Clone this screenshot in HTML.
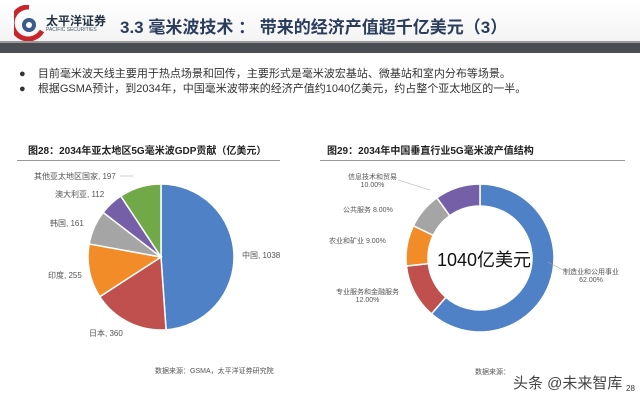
<!DOCTYPE html>
<html><head><meta charset="utf-8"><style>
body{margin:0;width:640px;height:400px;background:#fff;overflow:hidden;font-family:"Liberation Sans","Noto Sans CJK SC",sans-serif;position:relative}
.a{position:absolute;white-space:nowrap}
</style></head><body>
<div class="a" style="left:0;top:0;width:640px;height:44px;background:linear-gradient(#fff,#f3f3f3)"></div>
<div class="a" style="left:0;top:43px;width:640px;height:10px;background:#4a4e52"></div>
<div class="a" style="left:0;top:41px;width:640px;height:2px;background:#9a9a9a"></div>
<svg class="a" style="left:14px;top:5px" width="30" height="36"><path d="M15 2 A16 16 0 1 0 28 26" fill="none" stroke="#c8242c" stroke-width="5"/><circle cx="15" cy="20" r="7" fill="#3a5a8a"/><circle cx="15" cy="20" r="3" fill="#fff"/></svg>
<div class="a" style="left:46px;top:12px;font-size:12px;font-weight:bold;color:#234">太平洋证券</div>
<div class="a" style="left:46px;top:27px;font-size:5px;color:#456">PACIFIC SECURITIES</div>
<div class="a" style="left:120px;top:13px;font-size:17px;font-weight:bold;color:#2a3d5c">3.3 毫米波技术 ：&nbsp;带来的经济产值超千亿美元（3）</div>
<div class="a" style="left:19px;top:65px;font-size:11px;color:#333">●&nbsp;&nbsp;&nbsp;&nbsp;目前毫米波天线主要用于热点场景和回传，主要形式是毫米波宏基站、微基站和室内分布等场景。</div>
<div class="a" style="left:19px;top:80px;font-size:11px;color:#333">●&nbsp;&nbsp;&nbsp;&nbsp;根据GSMA预计，到2034年，中国毫米波带来的经济产值约1040亿美元，约占整个亚太地区的一半。</div>
<div class="a" style="left:28px;top:142px;font-size:10px;font-weight:bold;color:#222">图28：2034年亚太地区5G毫米波GDP贡献（亿美元）</div>
<div class="a" style="left:17px;top:160px;width:263px;height:1px;background:#999"></div>
<div class="a" style="left:327px;top:142px;font-size:10px;font-weight:bold;color:#222">图29：2034年中国垂直行业5G毫米波产值结构</div>
<div class="a" style="left:320px;top:160px;width:305px;height:1px;background:#999"></div>
<svg id="s" class="a" style="left:0;top:0" width="640" height="400"></svg>
<div class="a" style="left:34px;top:171px;font-size:8px;color:#555">其他亚太地区国家, 197</div>
<div class="a" style="left:55px;top:189px;font-size:8px;color:#555">澳大利亚, 112</div>
<div class="a" style="left:50px;top:218px;font-size:8px;color:#555">韩国, 161</div>
<div class="a" style="left:48px;top:270px;font-size:8px;color:#555">印度, 255</div>
<div class="a" style="left:89px;top:328px;font-size:8px;color:#555">日本, 360</div>
<div class="a" style="left:242px;top:250px;font-size:8px;color:#555">中国, 1038</div>
<div class="a" style="left:155px;top:366px;font-size:7px;color:#555">数据来源：GSMA，太平洋证券研究院</div>
<div class="a" style="left:348px;top:172px;font-size:7px;color:#555;text-align:center">信息技术和贸易<br>10.00%</div>
<div class="a" style="left:343px;top:205px;font-size:7px;color:#555">公共服务 8.00%</div>
<div class="a" style="left:329px;top:236px;font-size:7px;color:#555">农业和矿业 9.00%</div>
<div class="a" style="left:336px;top:287px;font-size:7px;color:#555;text-align:center">专业服务和金融服务<br>12.00%</div>
<div class="a" style="left:563px;top:267px;font-size:7px;color:#555;text-align:center">制造业和公用事业<br>62.00%</div>
<div class="a" style="left:437px;top:246px;font-size:18px;color:#111">1040亿美元</div>
<div class="a" style="left:475px;top:367px;font-size:7px;color:#555">数据来源：</div>
<div class="a" style="left:513px;top:372px;font-size:15px;color:#444">头条 @未来智库</div>
<div class="a" style="left:626px;top:384px;font-size:8px;color:#333">28</div>
<script>
var s=document.getElementById('s'),h='';
function arc(cx,cy,r,ri,a0,a1,c){var f=function(r,a){return [cx+r*Math.sin(a),cy-r*Math.cos(a)]};var l=(a1-a0)>Math.PI?1:0;var p1=f(r,a0),p2=f(r,a1);var d='M'+(ri?f(ri,a0):[cx,cy])+'L'+p1+'A'+r+','+r+' 0 '+l+',1 '+p2;if(ri){var q=f(ri,a1),q0=f(ri,a0);d+='L'+q+'A'+ri+','+ri+' 0 '+l+',0 '+q0}d+='Z';h+='<path d="'+d+'" fill="'+c+'" stroke="#fff" stroke-width="1.5"/>'}
function pie(cx,cy,r,ri,v,c){var t=v.reduce(function(a,b){return a+b}),a=0;v.forEach(function(x,i){var b=a+x/t*2*Math.PI;arc(cx,cy,r,ri,a,b,c[i]);a=b})}
var C=['#4f81c7','#c0504d','#f28c28','#a5a5a5','#7560a8','#71a949'];
pie(161,257,73,0,[1038,360,255,161,112,197],C);
pie(480,258,74,52,[62,12,9,8,10],['#4f81c7','#c0504d','#f28c28','#a5a5a5','#7560a8']);
h+='<path d="M120 176 L133 176" stroke="#aaa" stroke-width="0.6"/><path d="M398 180 L430 190 M563 270 L548 262" stroke="#aaa" stroke-width="0.6" fill="none"/>';
s.innerHTML=h;
</script>
</body></html>
